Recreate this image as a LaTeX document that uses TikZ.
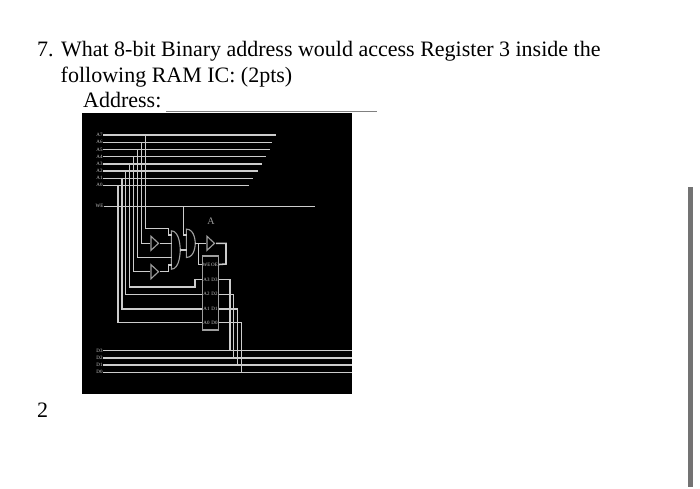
\documentclass[tikz,border=0pt]{standalone}
\usepackage{fontspec}
\setmainfont{Liberation Serif}
\usetikzlibrary{shapes.geometric}
\definecolor{WIREGRAY}{gray}{0.8}
\definecolor{PARTGRAY}{gray}{0.62}
\tikzset{
WIRE/.style ={draw=WIREGRAY,line join=miter,line cap=butt,line width=0.55 mm},
PINTEXT/.style ={text=WIREGRAY,font=\fontsize{5}{5}\selectfont,inner sep=0pt},
QTEXT/.style ={text=black,font=\fontsize{22}{24}\selectfont,anchor=base west,inner sep=0pt},
BUFFER/.style ={draw=PARTGRAY,line width=0.4 mm,isosceles triangle,isosceles triangle stretches,minimum height=7.5pt,minimum width=14pt,inner sep=0pt,anchor=apex},
GATE/.style ={minimum width=8.5pt,inner sep=0pt},
GATELINE/.style ={draw=PARTGRAY,line width=0.4 mm},
}
\begin{document}
\begin{tikzpicture} %RAM IC circuit
[x=1pt,y=-1pt]
	\useasboundingbox (0,0) rectangle (700,488);
	\path[fill=white] (0,0) rectangle (700,488);
	\path[fill=black] (82,113) rectangle (352,394);
	\path[fill=gray!90!black] (688,187) rectangle (693,487);
	% question text
	\node[QTEXT] (qone) at (37,56) {7. What 8-bit Binary address would access Register 3 inside the};
	\node[QTEXT] (qtwo) at (60.5,82) {following RAM IC: (2pts)};
	\node[QTEXT] (qaddr) at (83,107) {Address:};
	\node[QTEXT] (pagenum) at (37,417) {2};
	\coordinate (lineend) at (377,111.5);
	\path[draw=gray,line width=0.3 mm] (166,111.5) -- (lineend);
	% chip and gates
	\node[draw=PARTGRAY,line width=0.45 mm,minimum width=15.6pt,minimum height=74pt,inner sep=0pt] (chip) at (210.5,293) {};
	\node[BUFFER] (bufa) at (160,243.3) {};
	\node[BUFFER] (bufb) at (160,271.7) {};
	\node[BUFFER] (bufc) at (216,243.3) {};
	\node[GATE,minimum height=38pt] (gatea) at (175.8,250) {};
	\node[GATE,minimum height=28pt] (gateb) at (190.8,243.3) {};
	\foreach \g in {gatea,gateb} {
		\path[GATELINE] (\g.north west) .. controls (\g.north east) and (\g.east) .. (\g.east)
			.. controls (\g.east) and (\g.south east) .. (\g.south west) -- cycle;
	}
	\node[text=PARTGRAY,font=\fontsize{10}{10}\selectfont,inner sep=0pt] (labela) at (211,221) {A};
	% pins of the chip
	\foreach \n/\yy in {3/279.5,2/294.3,1/308.8,0/322.5} {
		\node[PINTEXT] (pa\n) at (206.5,\yy) {A\n};
		\node[PINTEXT] (pd\n) at (214.5,\yy) {D\n};
	}
	\node[PINTEXT] (pwe) at (206.5,264.5) {WE};
	\node[PINTEXT] (poe) at (214.5,264.5) {OE};
	% address lines
	\foreach \n/\yy/\xe/\xv in {7/135/276/145.3,6/142.3/272/141.7,5/149.7/270/137.7,4/156.7/266/133.7,3/164/262/129.7,2/171/258/125.7,1/178.3/253/122,0/185.3/249/118} {
		\node[PINTEXT] (a\n) at (99.5,\yy) {A\n};
		\coordinate (ae\n) at (\xe,\yy);
		\coordinate (at\n) at (\xv,\yy);
		\path[WIRE] (a\n) -- (ae\n);
	}
	% write line
	\node[PINTEXT] (wr) at (99.5,206.3) {WE};
	\coordinate (wrend) at (315,206.3);
	\coordinate (wrtap) at (183.7,206.3);
	\path[WIRE] (wr) -- (wrend);
	\path[WIRE] (wrtap) |- (186.5,235);
	% down to the chip
	\foreach \n in {0,1,2} {
		\path[WIRE] (at\n) |- (chip.west |- pa\n);
	}
	\coordinate (jog) at (195,287);
	\path[WIRE] (at3) |- (jog) |- (chip.west |- pa3);
	% down to the gates
	\path[WIRE] (at4) |- (bufb.west);
	\path[WIRE] (at5) |- (171.5,257.3);
	\path[WIRE] (at6) |- (bufa.west);
	\path[WIRE] (at7) |- (168.3,228.3) |- (171.5,235);
	\path[WIRE] (bufa.apex) -- (171.5,243.3);
	\path[WIRE] (bufb.apex) -| (168.3,265) -- (171.5,265);
	\path[WIRE] (gatea.east) -- (186.5,250);
	\path[WIRE] (gateb.east) -- (bufc.west);
	\path[WIRE] (198.5,243.3) |- (chip.west |- pwe);
	\path[WIRE] (bufc.apex) -| (226,264) -- (chip.east |- poe);
	% data lines
	\foreach \n/\yy/\xv in {3/350.7/230,2/358/233.7,1/365/237.7,0/372.3/241.3} {
		\node[PINTEXT] (d\n) at (99.5,\yy) {D\n};
		\coordinate (de\n) at (352,\yy);
		\coordinate (dt\n) at (\xv,\yy);
		\path[WIRE] (d\n) -- (de\n);
		\path[WIRE] (chip.east |- pd\n) -| (dt\n);
	}
\end{tikzpicture}
\end{document}
